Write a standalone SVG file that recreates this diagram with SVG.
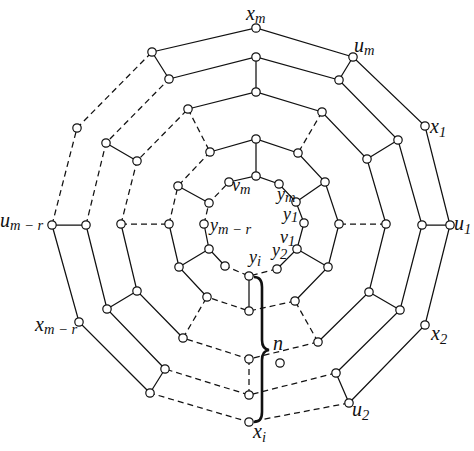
<svg xmlns="http://www.w3.org/2000/svg" width="474" height="451" viewBox="0 0 474 451">
<style>
.s{stroke:#111;stroke-width:1.25;fill:none}
.d{stroke:#111;stroke-width:1.25;fill:none;stroke-dasharray:6,4}
.n{fill:#fff;stroke:#111;stroke-width:1.2}
.t{font-family:"Liberation Serif","Times New Roman",serif;font-style:italic;font-size:20px;fill:#111}
.i{font-size:18px}
.b{font-size:14.5px}
.br{stroke:#111;stroke-width:2.6;fill:none}
</style>
<rect width="474" height="451" fill="#fff"/>
<g id="connectors">
<path class="s" d="M152,52 L256,28 L353,57 L425,126 L450,225 L425,325 L349,403"/>
<path class="d" d="M349,403 L249,422 L150,393"/>
<path class="s" d="M150,393 L79,322 L52,225"/>
<path class="d" d="M52,225 L77,128 L152,52"/>
<path class="s" d="M169,79 L256,57 L339,80 L398,140 L422,225 L400,310 L336,373"/>
<path class="d" d="M336,373 L249,395 L165,369"/>
<path class="s" d="M165,369 L107,309 L86,225"/>
<path class="d" d="M86,225 L106,143 L169,79"/>
<path class="s" d="M188,109 L256,92 L322,112 L367,159 L386,224 L369,292 L318,342"/>
<path class="d" d="M318,342 L249,359 L183,338"/>
<path class="s" d="M183,338 L137,291 L121,224"/>
<path class="d" d="M121,224 L137,161 L188,109"/>
<path class="s" d="M210,152 L256,139 L298,153 L325,182 L339,224 L328,267 L295,301"/>
<path class="d" d="M295,301 L249,311 L207,297"/>
<path class="s" d="M207,297 L179,267 L169,224"/>
<path class="d" d="M169,224 L178,186 L210,152"/>
<path class="s" d="M229,182 L256,176 L279,184 L296,202 L304,223 L297,249 L277,269"/>
<path class="d" d="M277,269 L249,276 L225,266"/>
<path class="s" d="M225,266 L209,249 L204,224"/>
<path class="d" d="M204,224 L209,203 L229,182"/>
<path class="s" d="M353,57 L339,80 M450,225 L422,225 M349,403 L336,373 M150,393 L165,369 M52,225 L86,225 M152,52 L169,79"/>
<path class="s" d="M256,57 L256,92 M398,140 L367,159 M400,310 L369,292 M107,309 L137,291 M106,143 L137,161"/>
<path class="d" d="M249,395 L249,359"/>
<path class="d" d="M322,112 L298,153 M386,224 L339,224 M318,342 L295,301 M183,338 L207,297 M121,224 L169,224 M188,109 L210,152"/>
<path class="s" d="M256,139 L256,176 M325,182 L296,202 M328,267 L297,249 M249,311 L249,276 M179,267 L209,249 M178,186 L209,203"/>
<path class="br" d="M254,277 Q262,277 262,287 L262,340 Q262,349 269,350 Q262,351 262,360 L262,412 Q262,422 254,422"/>
</g>
<g id="nodes">
<g id="r1">
<circle class="n" cx="256" cy="28" r="4.2"/><circle class="n" cx="353" cy="57" r="4.2"/><circle class="n" cx="425" cy="126" r="4.2"/><circle class="n" cx="450" cy="225" r="4.2"/><circle class="n" cx="425" cy="325" r="4.2"/><circle class="n" cx="349" cy="403" r="4.2"/><circle class="n" cx="249" cy="422" r="4.2"/><circle class="n" cx="150" cy="393" r="4.2"/><circle class="n" cx="79" cy="322" r="4.2"/><circle class="n" cx="52" cy="225" r="4.2"/><circle class="n" cx="77" cy="128" r="4.2"/><circle class="n" cx="152" cy="52" r="4.2"/>
</g>
<g id="r2">
<circle class="n" cx="256" cy="57" r="4.2"/><circle class="n" cx="339" cy="80" r="4.2"/><circle class="n" cx="398" cy="140" r="4.2"/><circle class="n" cx="422" cy="225" r="4.2"/><circle class="n" cx="400" cy="310" r="4.2"/><circle class="n" cx="336" cy="373" r="4.2"/><circle class="n" cx="249" cy="395" r="4.2"/><circle class="n" cx="165" cy="369" r="4.2"/><circle class="n" cx="107" cy="309" r="4.2"/><circle class="n" cx="86" cy="225" r="4.2"/><circle class="n" cx="106" cy="143" r="4.2"/><circle class="n" cx="169" cy="79" r="4.2"/>
</g>
<g id="r3">
<circle class="n" cx="256" cy="92" r="4.2"/><circle class="n" cx="322" cy="112" r="4.2"/><circle class="n" cx="367" cy="159" r="4.2"/><circle class="n" cx="386" cy="224" r="4.2"/><circle class="n" cx="369" cy="292" r="4.2"/><circle class="n" cx="318" cy="342" r="4.2"/><circle class="n" cx="249" cy="359" r="4.2"/><circle class="n" cx="183" cy="338" r="4.2"/><circle class="n" cx="137" cy="291" r="4.2"/><circle class="n" cx="121" cy="224" r="4.2"/><circle class="n" cx="137" cy="161" r="4.2"/><circle class="n" cx="188" cy="109" r="4.2"/>
</g>
<g id="r4">
<circle class="n" cx="256" cy="139" r="4.2"/><circle class="n" cx="298" cy="153" r="4.2"/><circle class="n" cx="325" cy="182" r="4.2"/><circle class="n" cx="339" cy="224" r="4.2"/><circle class="n" cx="328" cy="267" r="4.2"/><circle class="n" cx="295" cy="301" r="4.2"/><circle class="n" cx="249" cy="311" r="4.2"/><circle class="n" cx="207" cy="297" r="4.2"/><circle class="n" cx="179" cy="267" r="4.2"/><circle class="n" cx="169" cy="224" r="4.2"/><circle class="n" cx="178" cy="186" r="4.2"/><circle class="n" cx="210" cy="152" r="4.2"/>
</g>
<g id="r5">
<circle class="n" cx="256" cy="176" r="4.2"/><circle class="n" cx="279" cy="184" r="4.2"/><circle class="n" cx="296" cy="202" r="4.2"/><circle class="n" cx="304" cy="223" r="4.2"/><circle class="n" cx="297" cy="249" r="4.2"/><circle class="n" cx="277" cy="269" r="4.2"/><circle class="n" cx="249" cy="276" r="4.2"/><circle class="n" cx="225" cy="266" r="4.2"/><circle class="n" cx="209" cy="249" r="4.2"/><circle class="n" cx="204" cy="224" r="4.2"/><circle class="n" cx="209" cy="203" r="4.2"/><circle class="n" cx="229" cy="182" r="4.2"/>
</g>
<g id="extra"><circle class="n" cx="280" cy="363" r="4.2"/></g>
</g>
<g id="labels">
<text class="t" x="246" y="20">x<tspan class="b" dy="3">m</tspan></text>
<text class="t" x="354" y="52">u<tspan class="b" dy="3">m</tspan></text>
<text class="t" x="430" y="133">x<tspan class="b" dy="4">1</tspan></text>
<text class="t" x="454" y="230">u<tspan class="b" dy="4">1</tspan></text>
<text class="t" x="431" y="340">x<tspan class="b" dy="4">2</tspan></text>
<text class="t" x="352" y="416">u<tspan class="b" dy="4">2</tspan></text>
<text class="t" x="253" y="438">x<tspan class="b" dy="4">i</tspan></text>
<text class="t" x="35" y="331">x<tspan class="b" dy="3">m − r</tspan></text>
<text class="t" x="0" y="227">u<tspan class="b" dy="3">m − r</tspan></text>
<text class="t i" x="232" y="191">v<tspan class="b" dy="3">m</tspan></text>
<text class="t i" x="277" y="200">y<tspan class="b" dy="2">m</tspan></text>
<text class="t i" x="283" y="220">y<tspan class="b" dy="2">1</tspan></text>
<text class="t i" x="280" y="243">v<tspan class="b" dy="3">1</tspan></text>
<text class="t i" x="272" y="256">y<tspan class="b" dy="3">2</tspan></text>
<text class="t i" x="249" y="263">y<tspan class="b" dy="3">i</tspan></text>
<text class="t i" x="210" y="231">y<tspan class="b" dy="3">m − r</tspan></text>
<text class="t" x="273" y="350">n</text>
</g>
</svg>
